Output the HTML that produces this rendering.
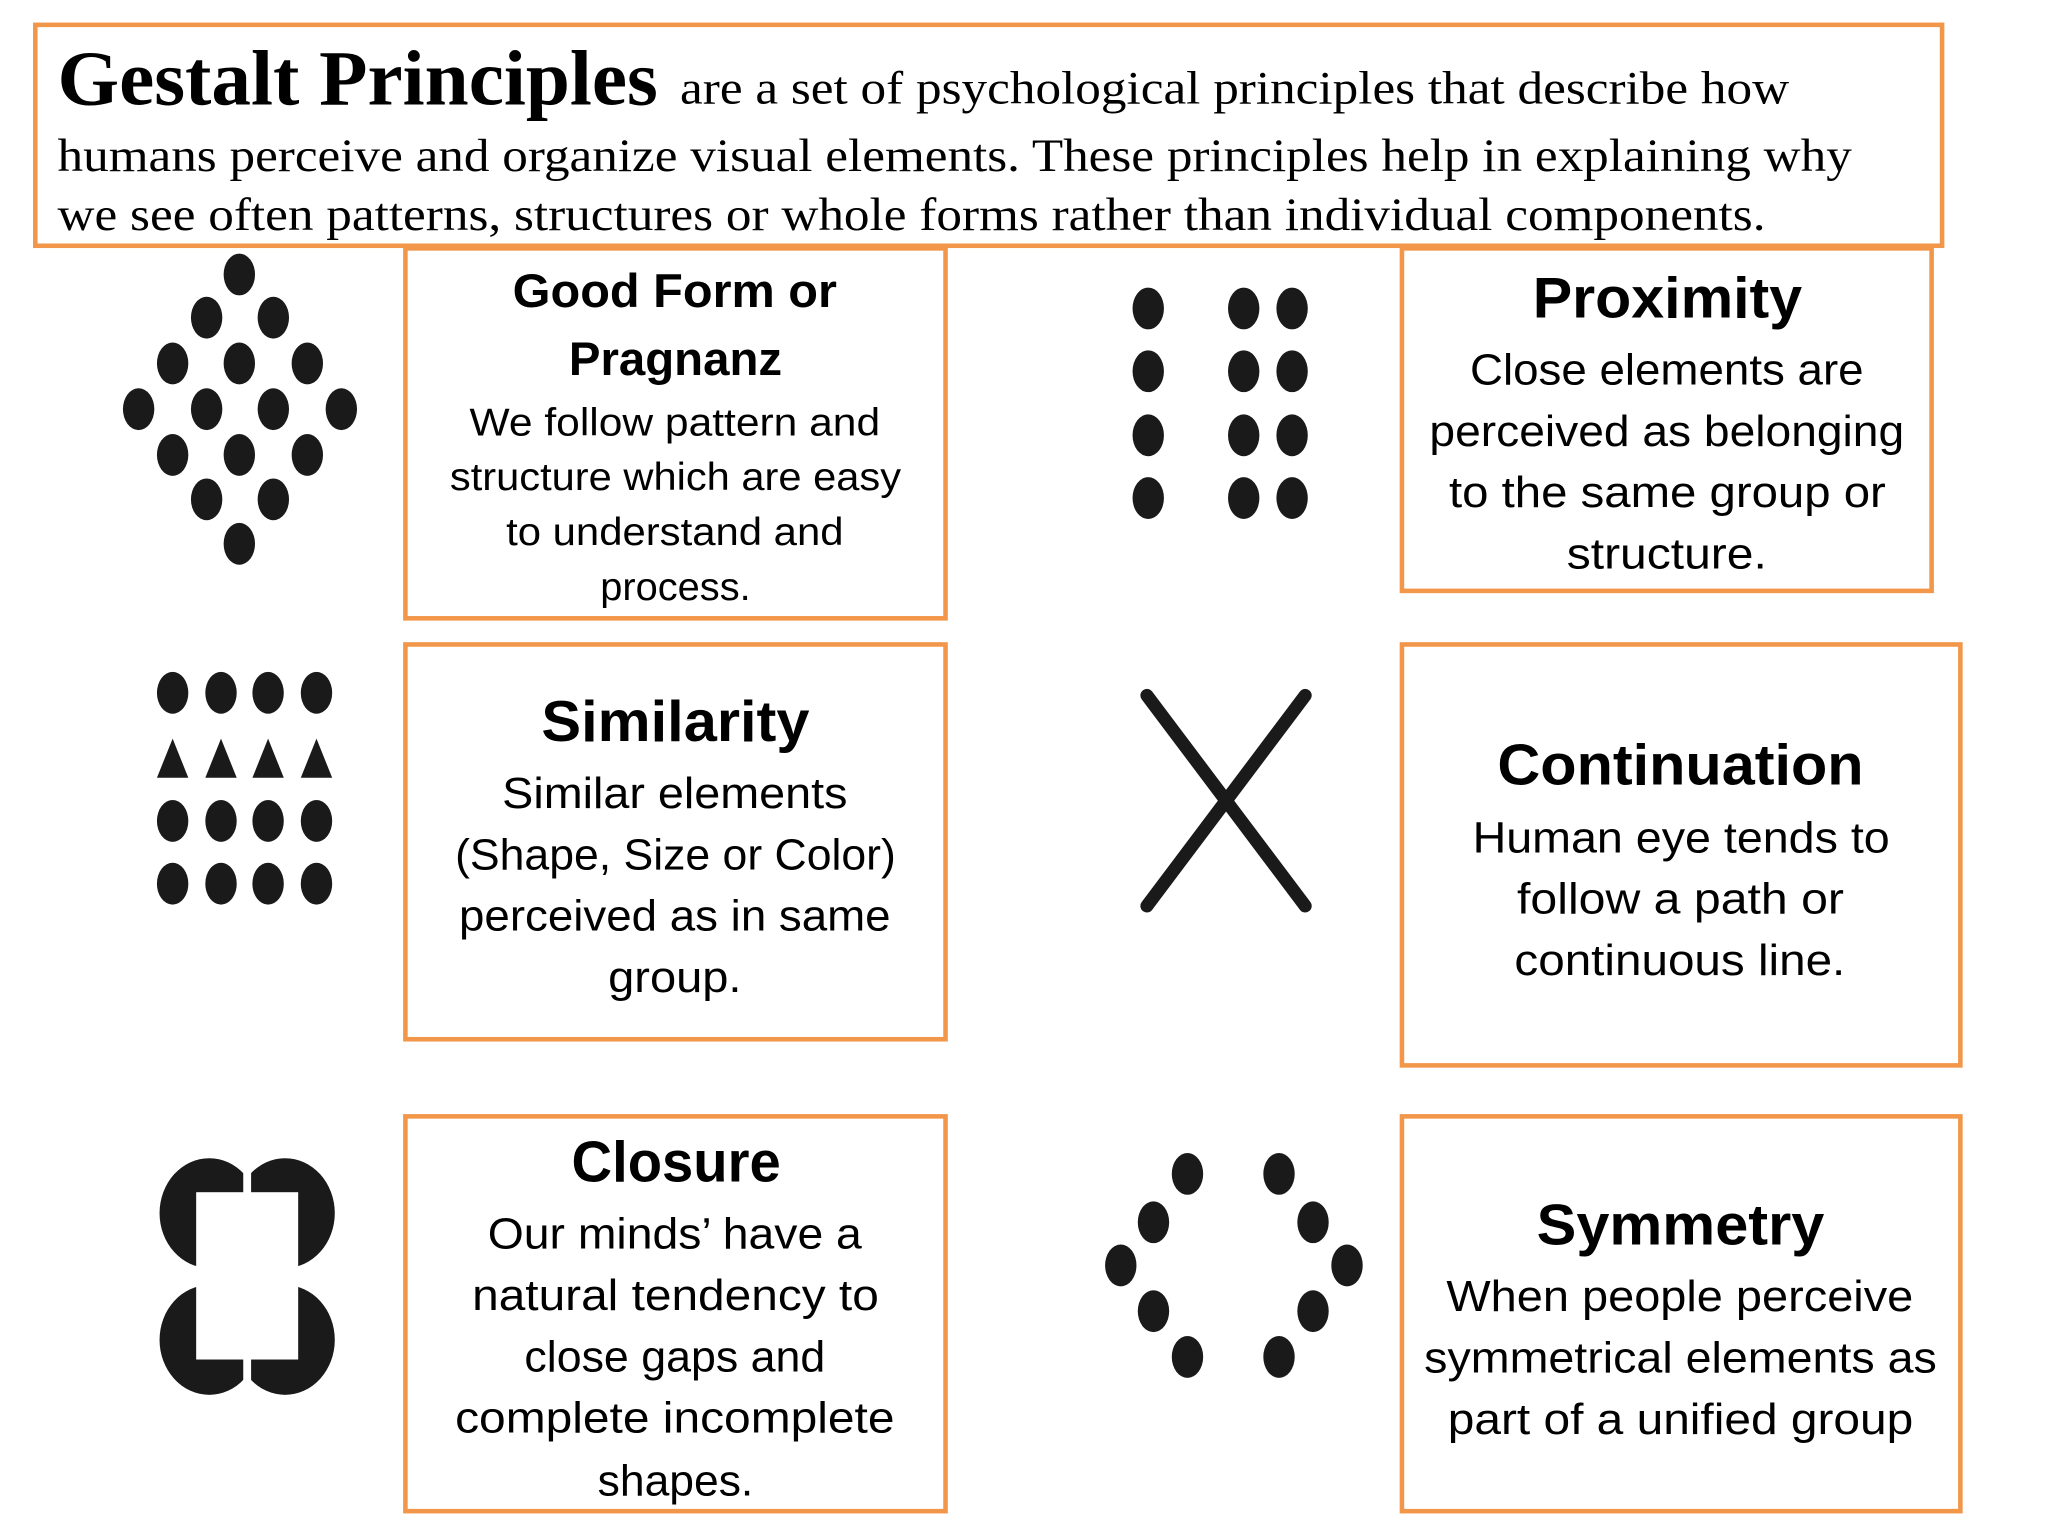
<!DOCTYPE html>
<html><head><meta charset="utf-8"><style>html,body{margin:0;padding:0;background:#fff}svg{display:block}</style></head>
<body>
<svg width="2048" height="1536" viewBox="0 0 1566 1175" preserveAspectRatio="none" xmlns="http://www.w3.org/2000/svg">
<rect width="1566" height="1175" fill="#fff"/>
<g fill="none" stroke="#F2974A" stroke-width="3.5">
<rect x="27" y="19" width="1458" height="169"/>
<rect x="310" y="190" width="413" height="283"/>
<rect x="1072" y="190" width="405" height="262"/>
<rect x="310" y="493" width="413" height="302"/>
<rect x="1072" y="493" width="427" height="322"/>
<rect x="310" y="854" width="413" height="302"/>
<rect x="1072" y="854" width="427" height="302"/>
</g>
<g font-family="Liberation Serif, serif" fill="#000">
<text x="44" y="80" font-size="60" font-weight="bold" textLength="459" lengthAdjust="spacingAndGlyphs">Gestalt Principles</text>
<text x="520" y="79" font-size="36" textLength="848" lengthAdjust="spacingAndGlyphs">are a set of psychological principles that describe how</text>
<text x="44" y="131" font-size="36" textLength="1372" lengthAdjust="spacingAndGlyphs">humans perceive and organize visual elements. These principles help in explaining why</text>
<text x="44" y="176" font-size="36" textLength="1306" lengthAdjust="spacingAndGlyphs">we see often patterns, structures or whole forms rather than individual components.</text>
</g>
<g font-family="Liberation Sans, sans-serif" fill="#000">
<text x="392" y="235" font-size="36" font-weight="bold" textLength="248" lengthAdjust="spacingAndGlyphs">Good Form or</text>
<text x="435" y="287" font-size="36" font-weight="bold" textLength="163" lengthAdjust="spacingAndGlyphs">Pragnanz</text>
<text x="359" y="333" font-size="30" textLength="314" lengthAdjust="spacingAndGlyphs">We follow pattern and</text>
<text x="344" y="375" font-size="30" textLength="345" lengthAdjust="spacingAndGlyphs">structure which are easy</text>
<text x="387" y="417" font-size="30" textLength="258" lengthAdjust="spacingAndGlyphs">to understand and</text>
<text x="459" y="459" font-size="30" textLength="115" lengthAdjust="spacingAndGlyphs">process.</text>

<text x="1172" y="243" font-size="44" font-weight="bold" textLength="206" lengthAdjust="spacingAndGlyphs">Proximity</text>
<text x="1124" y="294" font-size="33" textLength="301" lengthAdjust="spacingAndGlyphs">Close elements are</text>
<text x="1093" y="341" font-size="33" textLength="363" lengthAdjust="spacingAndGlyphs">perceived as belonging</text>
<text x="1108" y="388" font-size="33" textLength="334" lengthAdjust="spacingAndGlyphs">to the same group or</text>
<text x="1198" y="435" font-size="33" textLength="153" lengthAdjust="spacingAndGlyphs">structure.</text>

<text x="414" y="567" font-size="44" font-weight="bold" textLength="205" lengthAdjust="spacingAndGlyphs">Similarity</text>
<text x="384" y="618" font-size="33" textLength="264" lengthAdjust="spacingAndGlyphs">Similar elements</text>
<text x="348" y="665" font-size="33" textLength="337" lengthAdjust="spacingAndGlyphs">(Shape, Size or Color)</text>
<text x="351" y="712" font-size="33" textLength="330" lengthAdjust="spacingAndGlyphs">perceived as in same</text>
<text x="465" y="759" font-size="33" textLength="102" lengthAdjust="spacingAndGlyphs">group.</text>

<text x="1145" y="600" font-size="44" font-weight="bold" textLength="280" lengthAdjust="spacingAndGlyphs">Continuation</text>
<text x="1126" y="652" font-size="33" textLength="319" lengthAdjust="spacingAndGlyphs">Human eye tends to</text>
<text x="1160" y="699" font-size="33" textLength="250" lengthAdjust="spacingAndGlyphs">follow a path or</text>
<text x="1158" y="746" font-size="33" textLength="253" lengthAdjust="spacingAndGlyphs">continuous line.</text>

<text x="437" y="904" font-size="44" font-weight="bold" textLength="160" lengthAdjust="spacingAndGlyphs">Closure</text>
<text x="373" y="955" font-size="33" textLength="286" lengthAdjust="spacingAndGlyphs">Our minds’ have a</text>
<text x="361" y="1002" font-size="33" textLength="311" lengthAdjust="spacingAndGlyphs">natural tendency to</text>
<text x="401" y="1049" font-size="33" textLength="230" lengthAdjust="spacingAndGlyphs">close gaps and</text>
<text x="348" y="1096" font-size="33" textLength="336" lengthAdjust="spacingAndGlyphs">complete incomplete</text>
<text x="457" y="1144" font-size="33" textLength="119" lengthAdjust="spacingAndGlyphs">shapes.</text>

<text x="1175" y="952" font-size="44" font-weight="bold" textLength="220" lengthAdjust="spacingAndGlyphs">Symmetry</text>
<text x="1106" y="1003" font-size="33" textLength="357" lengthAdjust="spacingAndGlyphs">When people perceive</text>
<text x="1089" y="1050" font-size="33" textLength="392" lengthAdjust="spacingAndGlyphs">symmetrical elements as</text>
<text x="1107" y="1097" font-size="33" textLength="356" lengthAdjust="spacingAndGlyphs">part of a unified group</text>
</g>
<g fill="#1a1a1a">
<ellipse cx="183" cy="210" rx="12" ry="16"/>
<ellipse cx="158" cy="243" rx="12" ry="16"/><ellipse cx="209" cy="243" rx="12" ry="16"/>
<ellipse cx="132" cy="278" rx="12" ry="16"/><ellipse cx="183" cy="278" rx="12" ry="16"/><ellipse cx="235" cy="278" rx="12" ry="16"/>
<ellipse cx="106" cy="313" rx="12" ry="16"/><ellipse cx="158" cy="313" rx="12" ry="16"/><ellipse cx="209" cy="313" rx="12" ry="16"/><ellipse cx="261" cy="313" rx="12" ry="16"/>
<ellipse cx="132" cy="348" rx="12" ry="16"/><ellipse cx="183" cy="348" rx="12" ry="16"/><ellipse cx="235" cy="348" rx="12" ry="16"/>
<ellipse cx="158" cy="382" rx="12" ry="16"/><ellipse cx="209" cy="382" rx="12" ry="16"/>
<ellipse cx="183" cy="416" rx="12" ry="16"/>
<ellipse cx="878" cy="236" rx="12" ry="16"/><ellipse cx="951" cy="236" rx="12" ry="16"/><ellipse cx="988" cy="236" rx="12" ry="16"/>
<ellipse cx="878" cy="284" rx="12" ry="16"/><ellipse cx="951" cy="284" rx="12" ry="16"/><ellipse cx="988" cy="284" rx="12" ry="16"/>
<ellipse cx="878" cy="333" rx="12" ry="16"/><ellipse cx="951" cy="333" rx="12" ry="16"/><ellipse cx="988" cy="333" rx="12" ry="16"/>
<ellipse cx="878" cy="381" rx="12" ry="16"/><ellipse cx="951" cy="381" rx="12" ry="16"/><ellipse cx="988" cy="381" rx="12" ry="16"/>
<ellipse cx="132" cy="530" rx="12" ry="16"/><ellipse cx="169" cy="530" rx="12" ry="16"/><ellipse cx="205" cy="530" rx="12" ry="16"/><ellipse cx="242" cy="530" rx="12" ry="16"/>
<polygon points="132,565 120,595 144,595"/><polygon points="169,565 157,595 181,595"/><polygon points="205,565 193,595 217,595"/><polygon points="242,565 230,595 254,595"/>
<ellipse cx="132" cy="628" rx="12" ry="16"/><ellipse cx="169" cy="628" rx="12" ry="16"/><ellipse cx="205" cy="628" rx="12" ry="16"/><ellipse cx="242" cy="628" rx="12" ry="16"/>
<ellipse cx="132" cy="676" rx="12" ry="16"/><ellipse cx="169" cy="676" rx="12" ry="16"/><ellipse cx="205" cy="676" rx="12" ry="16"/><ellipse cx="242" cy="676" rx="12" ry="16"/>
<ellipse cx="908" cy="898" rx="12" ry="16"/><ellipse cx="978" cy="898" rx="12" ry="16"/>
<ellipse cx="882" cy="935" rx="12" ry="16"/><ellipse cx="1004" cy="935" rx="12" ry="16"/>
<ellipse cx="857" cy="968" rx="12" ry="16"/><ellipse cx="1030" cy="968" rx="12" ry="16"/>
<ellipse cx="882" cy="1003" rx="12" ry="16"/><ellipse cx="1004" cy="1003" rx="12" ry="16"/>
<ellipse cx="908" cy="1038" rx="12" ry="16"/><ellipse cx="978" cy="1038" rx="12" ry="16"/>
<ellipse cx="160" cy="928" rx="38" ry="42"/><ellipse cx="218" cy="928" rx="38" ry="42"/>
<ellipse cx="160" cy="1025" rx="38" ry="42"/><ellipse cx="218" cy="1025" rx="38" ry="42"/>
</g>
<rect x="150" y="912" width="78" height="128" fill="#fff"/>
<rect x="186" y="870" width="6" height="210" fill="#fff"/>
<rect x="110" y="973" width="160" height="6" fill="#fff"/>
<g stroke="#1a1a1a" stroke-width="10" stroke-linecap="round">
<line x1="877" y1="532" x2="998" y2="693"/>
<line x1="998" y1="532" x2="877" y2="693"/>
</g>
</svg>
</body></html>
